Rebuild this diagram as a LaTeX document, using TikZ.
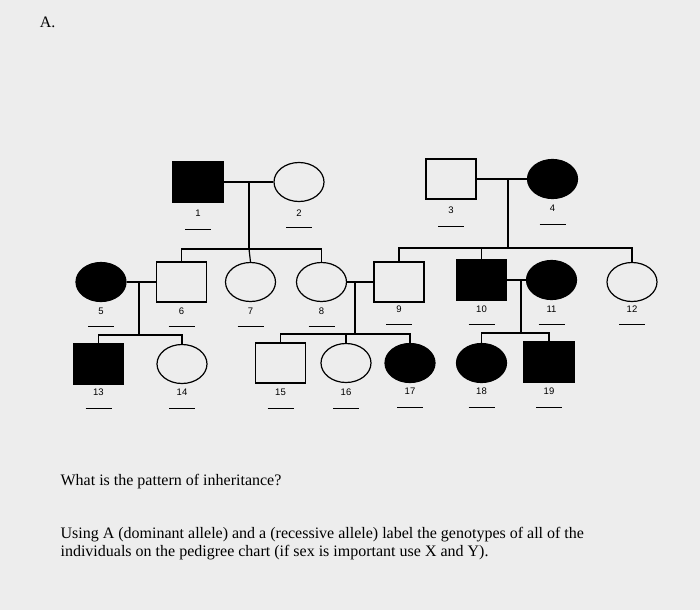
\documentclass[tikz,border=0pt]{standalone}
\usepackage{fontspec}
\setmainfont{Liberation Serif}
\newfontfamily\lab{Liberation Sans}
\usetikzlibrary{shapes.geometric}
\begin{document}
\begin{tikzpicture}[x=1pt,y=-1pt,line width=1.2pt,
  m/.style={draw,rectangle,minimum width=50pt,minimum height=40pt,inner sep=0pt},
  f/.style={draw,ellipse,minimum width=50pt,minimum height=39pt,inner sep=0pt},
  aff/.style={fill=black},
  lb/.style={font=\lab\fontsize{9.5}{10}\selectfont,inner sep=0pt},
  bl/.style={line width=1pt}]
\fill[gray!14] (0,0) rectangle (700,610);
\useasboundingbox (0,0) rectangle (700,610);
\node[font=\fontsize{16}{18}\selectfont,anchor=west] at (36,22) {A.};
% generation I
\node[m,aff] (n1) at (198,182) {};
\node[f] (n2) at (299,182) {};
\node[m] (n3) at (451,179) {};
\node[f,aff] (n4) at (552.5,179) {};
% generation II
\node[f,aff] (n5) at (101,282) {};
\node[m] (n6) at (181.5,282) {};
\node[f] (n7) at (250.5,282) {};
\node[f] (n8) at (321.5,282) {};
\node[m] (n9) at (399,282) {};
\node[m,aff] (n10) at (481.5,280) {};
\node[f,aff] (n11) at (551.5,280) {};
\node[f] (n12) at (632,282) {};
% generation III
\node[m,aff] (n13) at (98.5,364) {};
\node[f] (n14) at (182,364) {};
\node[m] (n15) at (280.5,363) {};
\node[f] (n16) at (346,363) {};
\node[f,aff] (n17) at (410,363) {};
\node[f,aff] (n18) at (481.5,363) {};
\node[m,aff] (n19) at (549,362) {};
% labels and answer lines
\foreach \n/\y/\l in {1/213/229,2/213/227,3/210/226,4/208/224,
  5/311/326,6/311/326,7/311/326,8/311/326,9/309/324,10/309/324,11/309/324,12/309/324,
  13/392/408,14/392/408,15/392/408,16/392/408,17/391/407,18/391/407,19/391/407}{
  \coordinate (c\n) at (n\n.center);
  \node[lb] (t\n) at (c\n |- 0,\y) {\n};
  \draw[bl] ([xshift=-13pt]c\n |- 0,\l) coordinate (la\n) -- ([xshift=13pt]c\n |- 0,\l) coordinate (lb\n);
}
% couples
\draw (n1.east) -- (n2.west);
\coordinate (d12) at (249,182);
\coordinate (s12) at (249,249);
\draw (d12) -- (s12);
\draw (n6.north) |- (s12) -| (n8.north);
\draw (s12) -- (n7.north);
\draw (n3.east) -- (n4.west);
\coordinate (d34) at (508,179);
\coordinate (s34) at (508,248);
\draw (d34) -- (s34);
\draw (n9.north) |- (s34) -| (n12.north);
\draw (n10.north) -- (n10.north |- s34);
\draw (n5.east) -- (n6.west);
\coordinate (d56) at (139,282);
\coordinate (s56) at (139,335);
\draw (d56) -- (s56);
\draw (n13.north) |- (s56) -| (n14.north);
\draw (n8.east) -- (n9.west);
\coordinate (d89) at (355,282);
\coordinate (s89) at (355,334);
\draw (d89) -- (s89);
\draw (n15.north) |- (s89) -| (n17.north);
\draw (n16.north) -- (n16.north |- s89);
\draw (n10.east) -- (n11.west);
\coordinate (d1011) at (521,280);
\coordinate (s1011) at (521,333);
\draw (d1011) -- (s1011);
\draw (n18.north) |- (s1011) -| (n19.north);
% questions
\node[font=\fontsize{16}{18}\selectfont,anchor=west,inner sep=0pt] at (60,482) {What is the pattern of inheritance?};
\node[font=\fontsize{16}{18}\selectfont,anchor=north west,align=left,inner sep=0pt] at (60,527)
 {Using A (dominant allele) and a (recessive allele) label the genotypes of all of the\\individuals on the pedigree chart (if sex is important use X and Y).};
\end{tikzpicture}
\end{document}
